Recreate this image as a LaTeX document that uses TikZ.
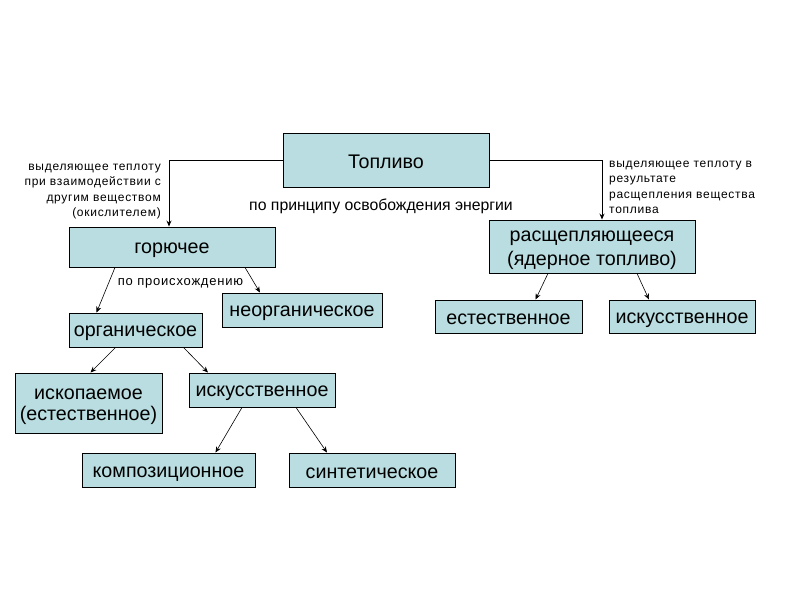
\documentclass[tikz,border=0pt]{standalone}
\usepackage{fontspec}
\setmainfont{Liberation Sans}
\newfontfamily\spaced[LetterSpace=6]{Liberation Sans}
\usetikzlibrary{arrows.meta}
\definecolor{boxfill}{RGB}{185,221,224}
\newcommand{\bs}{\vrule height 18pt depth 2pt width 0pt\relax}
\tikzset{
  box/.style={draw=black, line width=0.9pt, fill=boxfill, inner sep=0pt, align=center, font=\fontsize{19.7}{20.3}\selectfont},
  link/.style={line width=0.6pt, -{Stealth[length=6pt,width=5pt]}},
  mainlink/.style={line width=0.9pt, -{Stealth[length=6pt,width=5pt]}},
  note/.style={inner sep=0pt, font=\spaced\fontsize{12}{15.6}\selectfont}
}
\begin{document}
\begin{tikzpicture}[x=1pt,y=-1pt]
\useasboundingbox (0,0) rectangle (800,600);
\fill[white] (0,0) rectangle (800,600);
\node[box, minimum width=206pt, minimum height=54pt] (top) at (386,160) {\bs Топливо};
\node[box, minimum width=206pt, minimum height=40pt] (gor) at (172,247) {\bs горючее};
\node[box, minimum width=206pt, minimum height=53pt] (ras) at (592,246.5) {\bs расщепляющееся\\\bs(ядерное топливо)};
\node[box, minimum width=160pt, minimum height=34pt] (neorg) at (302,310) {\bs неорганическое};
\node[box, minimum width=133pt, minimum height=34pt] (org) at (135.5,330) {\bs органическое};
\node[box, minimum width=147pt, minimum height=33pt] (est) at (508.5,316.5) {\bs естественное};
\node[box, minimum width=146pt, minimum height=33pt] (art2) at (682,316.5) {\bs искусственное};
\node[box, minimum width=147pt, minimum height=60pt] (isk) at (88.5,403) {\bs ископаемое\\\bs(естественное)};
\node[box, minimum width=146pt, minimum height=34pt] (art) at (262,390) {\bs искусственное};
\node[box, minimum width=173pt, minimum height=34pt] (komp) at (168.5,470) {\bs композиционное};
\node[box, minimum width=166pt, minimum height=34pt] (sint) at (372,470) {\bs синтетическое};

\draw[mainlink] (top.west) -| ([xshift=-3pt]gor.north);
\draw[mainlink] (top.east) -| ([xshift=10pt]ras.north);

\draw[link] ([xshift=-57pt]gor.south) -- ([xshift=-39pt]org.north);
\draw[link] ([xshift=73pt]gor.south) -- ([xshift=-42pt]neorg.north);
\draw[link] ([xshift=-20pt]org.south) -- ([xshift=2pt]isk.north);
\draw[link] ([xshift=48pt]org.south) -- ([xshift=-54pt]art.north);
\draw[link] ([xshift=-20pt]art.south) -- ([xshift=47pt]komp.north);
\draw[link] ([xshift=34pt]art.south) -- ([xshift=-45pt]sint.north);
\draw[link] ([xshift=-44pt]ras.south) -- ([xshift=27pt]est.north);
\draw[link] ([xshift=45pt]ras.south) -- ([xshift=-33pt]art2.north);

\node[note, anchor=north east, align=right] (lnote) at (161,163.5) {выделяющее теплоту\\при взаимодействии с\\другим веществом\\(окислителем)};
\node[note, anchor=north west, align=left] (rnote) at (609,160.5) {выделяющее теплоту в\\результате\\расщепления вещества\\топлива};
\node[inner sep=0pt, anchor=base, font=\fontsize{15.8}{18}\selectfont] (principle) at (381,210) {по принципу освобождения энергии};
\node[inner sep=0pt, anchor=base, font=\spaced\fontsize{13}{15}\selectfont] (origin) at (180.5,285) {по происхождению};
\end{tikzpicture}
\end{document}
